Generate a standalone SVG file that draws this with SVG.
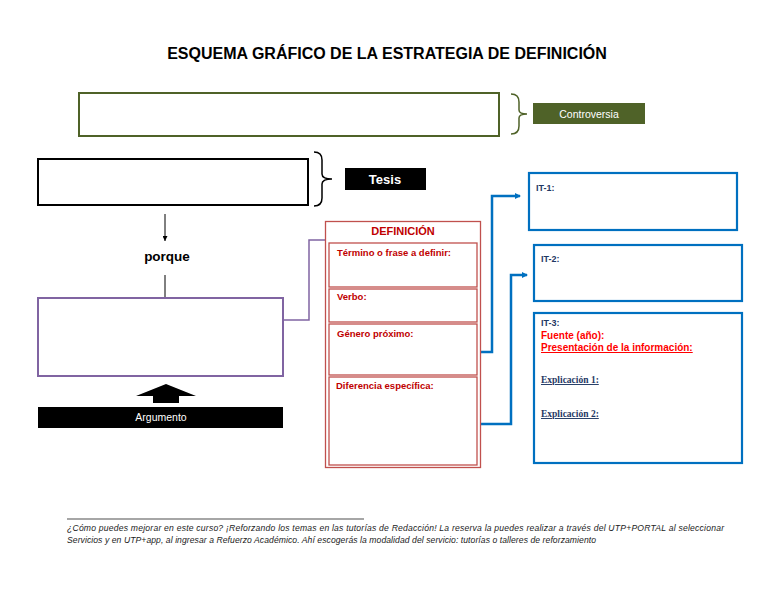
<svg xmlns="http://www.w3.org/2000/svg" width="768" height="594" viewBox="0 0 768 594">
<style>
text{font-family:"Liberation Sans",Arial,sans-serif}
.red{fill:#c00000;font-size:9.5px;font-weight:bold}
.rb{fill:none;stroke:#c0504d;stroke-width:1.3}
.bb{fill:#fff;stroke:#0070c0;stroke-width:2.2}
.bl{fill:none;stroke:#0070c0;stroke-width:2.5}
.it{fill:#1f3864;font-size:9px;font-weight:bold}
.ex{font-family:"Liberation Serif",serif;fill:#1f3864;font-size:9.5px;font-weight:bold;text-decoration:underline}
</style>
<defs>
<marker id="ba" markerWidth="6" markerHeight="6" refX="5" refY="3" orient="auto" markerUnits="userSpaceOnUse" viewBox="0 0 6 6"><path d="M0,0L6,3L0,6z" fill="#0070c0"/></marker>
<marker id="ka" markerWidth="5" markerHeight="5" refX="5" refY="2.5" orient="auto" markerUnits="userSpaceOnUse"><path d="M0,0L5,2.5L0,5z" fill="#000"/></marker>
</defs>
<rect width="768" height="594" fill="#fff"/>
<text x="387" y="59" text-anchor="middle" font-size="16" font-weight="bold">ESQUEMA GRÁFICO DE LA ESTRATEGIA DE DEFINICIÓN</text>
<g id="controversia-box"><rect x="79" y="93" width="420" height="43" fill="#fff" stroke="#4f6228" stroke-width="2"/></g>
<g id="controversia"><path d="M511,94 q8,0 8,8 v8 q0,4 8,4 q-8,0 -8,4 v8 q0,8 -8,8" fill="none" stroke="#4f6228" stroke-width="1.5"/><rect x="533" y="103" width="112" height="21" fill="#4f6228"/><text x="589" y="117.5" text-anchor="middle" font-size="10.5" fill="#fff">Controversia</text></g>
<g id="tesis-box"><rect x="38" y="159" width="270" height="46" fill="#fff" stroke="#000" stroke-width="2"/></g>
<g id="tesis"><path d="M314,152 q8,0 8,8 v14 q0,5 10,5 q-10,0 -10,5 v14 q0,8 -8,8" fill="none" stroke="#000" stroke-width="1.5"/><rect x="345" y="168" width="81" height="22" fill="#000"/><text x="385" y="184" text-anchor="middle" font-size="13" font-weight="bold" fill="#fff">Tesis</text></g>
<g id="connectors">
<line x1="165" y1="214" x2="165" y2="241" stroke="#000" marker-end="url(#ka)"/>
<line x1="165" y1="275" x2="165" y2="298" stroke="#000"/>
<polyline points="283,320 309,320 309,240 326,240" fill="none" stroke="#8064a2" stroke-width="1.5"/>
<polyline class="bl" points="481,352 492,352 492,196 520,196" marker-end="url(#ba)"/>
<polyline class="bl" points="481,424 511,424 511,275 527,275" marker-end="url(#ba)"/>
<path d="M136,396 L166,384 L196,396 L179,396 L179,403 L153,403 L153,396 Z" fill="#000"/>
</g>
<text x="167" y="261" text-anchor="middle" font-size="13.5" font-weight="bold">porque</text>
<g id="argumento-box"><rect x="38" y="298" width="245" height="78" fill="#fff" stroke="#8064a2" stroke-width="2"/></g>
<g id="argumento"><rect x="38" y="407" width="245" height="21" fill="#000"/><text x="161" y="421" text-anchor="middle" font-size="10.5" fill="#fff">Argumento</text></g>
<g id="definicion">
<rect class="rb" x="325.5" y="221.5" width="155" height="246" stroke-width="2"/>
<text x="403" y="235" text-anchor="middle" font-size="11" font-weight="bold" fill="#c00000">DEFINICIÓN</text>
<rect class="rb" x="329" y="243" width="148" height="44"/><text class="red" x="337" y="256">Término o frase a definir:</text>
<rect class="rb" x="329" y="289" width="148" height="33"/><text class="red" x="337" y="300">Verbo:</text>
<rect class="rb" x="329" y="324" width="148" height="51"/><text class="red" x="337" y="337">Género próximo:</text>
<rect class="rb" x="329" y="377" width="148" height="88"/><text class="red" x="336" y="389">Diferencia específica:</text>
</g>
<g id="it1"><rect class="bb" x="529" y="173" width="208" height="57"/><text class="it" x="536" y="191">IT-1:</text></g>
<g id="it2"><rect class="bb" x="534" y="245" width="208" height="56"/><text class="it" x="541" y="262">IT-2:</text></g>
<g id="it3"><rect class="bb" x="534" y="313" width="208" height="150"/><text class="it" x="541" y="326">IT-3:</text>
<text x="541" y="339" font-size="10" font-weight="bold" fill="#ff0000">Fuente (año):</text>
<text x="541" y="351" font-size="10" font-weight="bold" fill="#ff0000" text-decoration="underline">Presentación de la información:</text>
<text class="ex" x="541" y="383">Explicación 1:</text>
<text class="ex" x="541" y="417">Explicación 2:</text></g>
<line x1="67" y1="519" x2="364" y2="519" stroke="#000" stroke-width="0.7"/>
<text x="67" y="531" font-size="8.6" font-style="italic" fill="#222" textLength="657" lengthAdjust="spacing">¿Cómo puedes mejorar en este curso? ¡Reforzando los temas en las tutorías de Redacción! La reserva la puedes realizar a través del UTP+PORTAL al seleccionar</text>
<text x="67" y="543" font-size="8.6" font-style="italic" fill="#222" textLength="529" lengthAdjust="spacing">Servicios y en UTP+app, al ingresar a Refuerzo Académico. Ahí escogerás la modalidad del servicio: tutorías o talleres de reforzamiento</text>
</svg>
